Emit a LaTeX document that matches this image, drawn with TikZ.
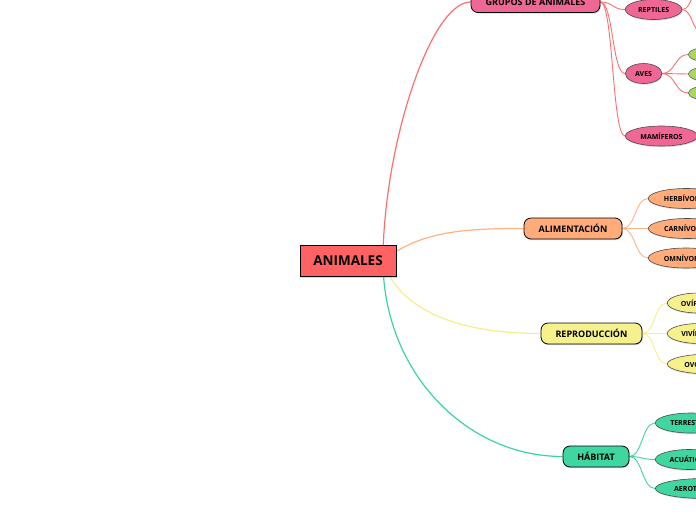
\documentclass[tikz,border=0pt]{standalone}
\usepackage{fontspec}
\setmainfont{Open Sans}
\usetikzlibrary{positioning,shapes.geometric,backgrounds,shadows}

\definecolor{cRoot}{RGB}{255,98,98}
\definecolor{cPink}{RGB}{240,103,150}
\definecolor{cOrange}{RGB}{255,172,122}
\definecolor{cYellow}{RGB}{246,241,140}
\definecolor{cTeal}{RGB}{64,214,160}
\definecolor{cGreen}{RGB}{168,216,94}
\definecolor{lRed}{RGB}{255,110,110}
\definecolor{lOrange}{RGB}{255,178,130}
\definecolor{lYellow}{RGB}{246,238,140}
\definecolor{lTeal}{RGB}{60,212,160}

\tikzset{
  shd/.style={drop shadow={shadow xshift=0.8pt, shadow yshift=-1.2pt, opacity=0.3}},
  root/.style={draw=black, line width=0.8pt, fill=cRoot, minimum width=96pt, minimum height=31pt,
    font=\fontsize{13.5}{14}\selectfont\bfseries, shd},
  topic/.style={draw=black, line width=0.8pt, rounded corners=7pt, minimum height=21pt, inner xsep=0pt,
    font=\fontsize{9}{10}\selectfont\bfseries, shd},
  leaf/.style={ellipse, draw=black!70, line width=0.6pt, minimum height=20pt, inner xsep=4.5pt, inner ysep=1pt,
    anchor=west, font=\fontsize{7}{8}\selectfont\bfseries, shd},
  bird/.style={ellipse, draw=black!60, line width=0.6pt, fill=cGreen, minimum width=44pt, minimum height=15pt,
    anchor=west, shd},
  branch/.style={line width=1.2pt},
  twig/.style={line width=0.9pt}
}

\begin{document}
\begin{tikzpicture}[x=1pt, y=-1pt]
  \useasboundingbox (0,0) rectangle (696,520);
  \clip (0,0) rectangle (696,520);

  \node[root] at (348,261) (AN) {ANIMALES};
  \coordinate (hub) at ([xshift=35pt]AN.center);

  % grupos
  \node[topic, fill=cPink, minimum width=129pt] at (535.5,2) (GR) {GRUPOS DE ANIMALES};
  \node[leaf, fill=cPink] at (625,9.5) (RE) {REPTILES};
  \node[leaf, fill=cPink] at (625,73.5) (AV) {AVES};
  \node[leaf, fill=cPink] at (625,136) (MA) {MAMÍFEROS};
  \node[bird] at (688,54.5) (B1) {};
  \node[bird] at (688,74) (B2) {};
  \node[bird] at (688,93) (B3) {};
  \coordinate (R1) at (702,-14);
  \coordinate (R2) at (702,32);

  % alimentacion
  \node[topic, fill=cOrange, minimum width=98pt] at (573,228.5) (AL) {ALIMENTACIÓN};
  \node[leaf, fill=cOrange] at (648,198.5) (HE) {HERBÍVOROS};
  \node[leaf, fill=cOrange] at (648,228.5) (CA) {CARNÍVOROS};
  \node[leaf, fill=cOrange] at (648,258) (OM) {OMNÍVOROS};

  % reproduccion
  \node[topic, fill=cYellow, minimum width=101pt] at (591.5,333.5) (RP) {REPRODUCCIÓN};
  \node[leaf, fill=cYellow] at (667,303) (OV) {OVÍPAROS};
  \node[leaf, fill=cYellow] at (667,333.5) (VI) {VIVÍPAROS};
  \node[leaf, fill=cYellow] at (667,364) (OO) {OVOVIVÍPAROS};

  % habitat
  \node[topic, fill=cTeal, minimum width=66pt] at (596,456.5) (HA) {HÁBITAT};
  \node[leaf, fill=cTeal] at (655,423) (TE) {TERRESTRES};
  \node[leaf, fill=cTeal] at (655,459.5) (AC) {ACUÁTICOS};
  \node[leaf, fill=cTeal] at (655,488.5) (AE) {AEROTERRESTRES};

  \begin{scope}[on background layer]
    \clip (0,0) rectangle (696,520);
    \draw[branch, lRed] (hub) .. controls +(0,-111) and +(-41,0) .. (GR.west);
    \draw[branch, lOrange] (hub) .. controls +(37,-31) and +(-54,0) .. (AL.west);
    \draw[branch, lYellow] (hub) .. controls +(12,39) and +(-100,0) .. (RP.west);
    \draw[branch, lTeal] (hub) .. controls +(0,108) and +(-99,0) .. (HA.west);

    \foreach \c in {RE,AV,MA}
      \draw[twig, lRed] (GR.east) .. controls +(13,0) and +(-13,0) .. (\c.west);
    \foreach \c in {B1,B2,B3}
      \draw[twig, lRed] (AV.east) .. controls +(13,0) and +(-13,0) .. (\c.west);
    \foreach \c in {R1,R2}
      \draw[twig, lRed] (RE.east) .. controls +(10,0) and +(-10,0) .. (\c);
    \foreach \c in {HE,CA,OM}
      \draw[twig, lOrange] (AL.east) .. controls +(13,0) and +(-13,0) .. (\c.west);
    \foreach \c in {OV,VI,OO}
      \draw[twig, lYellow] (RP.east) .. controls +(13,0) and +(-13,0) .. (\c.west);
    \foreach \c in {TE,AC,AE}
      \draw[twig, lTeal] (HA.east) .. controls +(13,0) and +(-13,0) .. (\c.west);
  \end{scope}
\end{tikzpicture}
\end{document}
